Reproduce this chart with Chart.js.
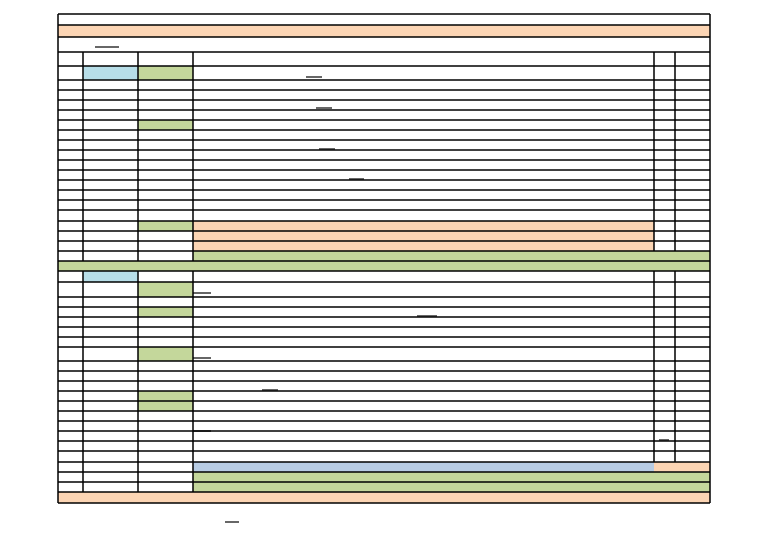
<!DOCTYPE html>
<html lang="en">
<head>
<meta charset="UTF-8">
<title>Grid</title>
<style>body{margin:0;background:#fff}</style>
</head>
<body>
<div style="width:768px;height:543px"><canvas id="myChart" width="768" height="543"></canvas></div>
<script src="https://cdn.jsdelivr.net/npm/chart.js@4/dist/chart.umd.min.js"></script>
<script>
// column and row edges of the table
var colEdges = [58, 83, 138, 193, 654, 675, 710];
var rowEdges = [14, 25, 37, 52, 66, 80, 90, 100, 110, 120, 130, 140, 150, 160, 170, 180, 190, 200, 210,
    221, 231, 241, 251, 261, 271, 282, 297, 307, 317, 327, 337, 347, 361, 371, 381, 391, 401, 411, 421,
    431, 441, 451, 462, 472, 482, 492, 503];
// filled cells: [topEdge, bottomEdge, leftCol, rightCol, colour]
var orange = '#fcd5b4', green = '#c4d79b', blue = '#b7dee8', steel = '#b8cce4';
var cells = [
    [25, 37, 0, 6, orange],
    [66, 80, 1, 2, blue], [66, 80, 2, 3, green],
    [120, 130, 2, 3, green],
    [221, 231, 2, 3, green],
    [221, 251, 3, 4, orange],
    [251, 261, 3, 6, green],
    [261, 271, 0, 6, green],
    [271, 282, 1, 2, blue],
    [282, 297, 2, 3, green],
    [307, 317, 2, 3, green],
    [347, 361, 2, 3, green],
    [391, 411, 2, 3, green],
    [462, 472, 3, 4, steel], [462, 472, 4, 6, orange],
    [472, 492, 3, 6, green],
    [492, 503, 0, 6, orange]
];
// vertical lines: [col, top, bottom]
var vLines = [
    [0, 14, 503], [6, 14, 503],
    [1, 52, 261], [1, 271, 492], [2, 52, 261], [2, 271, 492], [3, 52, 261], [3, 271, 492],
    [4, 52, 251], [4, 271, 462], [5, 52, 251], [5, 271, 462]
];
// short underscores: [x0, x1, y]
var dashes = [[95, 119, 47], [306, 322, 77], [316, 332, 108], [319, 335, 149], [349, 364, 179],
    [193, 211, 293], [417, 437, 316], [193, 211, 358], [262, 278, 390], [193, 211, 431],
    [659, 669, 440], [225, 239, 522]];

var datasets = [];
cells.forEach(function (c) {
    var x0 = colEdges[c[2]], x1 = colEdges[c[3]];
    datasets.push({
        data: [{x: x0, y: c[0]}, {x: x1, y: c[0]}, {x: x1, y: c[1]}, {x: x0, y: c[1]}, {x: x0, y: c[0]}],
        showLine: true, fill: 'shape', backgroundColor: c[4], borderWidth: 0, pointRadius: 0, order: 5
    });
});
rowEdges.forEach(function (y) {
    datasets.push({data: [{x: colEdges[0], y: y}, {x: colEdges[6], y: y}],
        showLine: true, borderColor: '#000', borderWidth: 1.5, pointRadius: 0, order: 1});
});
vLines.forEach(function (v) {
    datasets.push({data: [{x: colEdges[v[0]], y: v[1]}, {x: colEdges[v[0]], y: v[2]}],
        showLine: true, borderColor: '#000', borderWidth: 1.5, pointRadius: 0, order: 1});
});
dashes.forEach(function (d) {
    datasets.push({data: [{x: d[0], y: d[2]}, {x: d[1], y: d[2]}],
        showLine: true, borderColor: '#000', borderWidth: 1.2, pointRadius: 0, order: 1});
});

new Chart(document.getElementById('myChart'), {
    type: 'scatter',
    data: {datasets: datasets},
    options: {
        responsive: false, animation: false,
        layout: {padding: 0},
        plugins: {legend: {display: false}, tooltip: {enabled: false}},
        scales: {
            x: {type: 'linear', min: 0, max: 768, display: false},
            y: {type: 'linear', min: 0, max: 543, reverse: true, display: false}
        }
    }
});
</script>
</body>
</html>
